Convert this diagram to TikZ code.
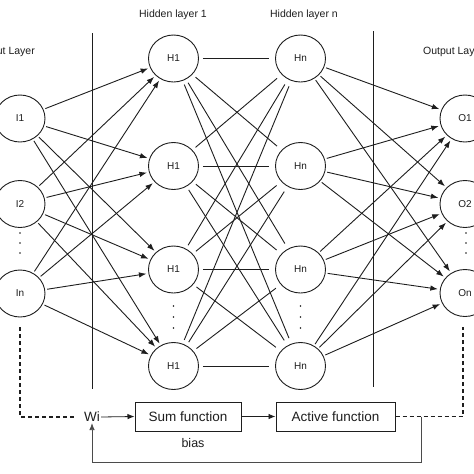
\documentclass[tikz,border=0pt]{standalone}
\usepackage{fontspec}
\setmainfont{Liberation Sans}
\usetikzlibrary{arrows.meta,shapes.geometric,calc}
\definecolor{ln}{HTML}{1E1E1E}
\begin{document}
\begin{tikzpicture}[x=1pt,y=-1pt,
  neuron/.style={ellipse,draw=ln,line width=0.9pt,minimum width=50pt,minimum height=47pt,inner sep=0pt,font=\fontsize{10}{12}\selectfont,text=ln},
  arr/.style={draw=ln,line width=0.9pt,-{Latex[length=7.5pt,width=5.5pt]},shorten <=2pt,shorten >=2pt},
  link/.style={draw=ln,line width=0.9pt,shorten <=4pt,shorten >=6pt},
  sep/.style={draw=ln,line width=0.9pt},
  lab/.style={font=\fontsize{10.5}{12}\selectfont,text=ln,inner sep=0pt},
  fbox/.style={draw=ln,line width=1pt,minimum height=29pt,inner sep=0pt,font=\fontsize{13.5}{15}\selectfont,text=ln},
  dsh/.style={draw=ln,line width=1.1pt,dash pattern=on 4pt off 3pt},
  fb/.style={draw=ln!80,line width=0.8pt},
  dotmark/.style={fill=ln,draw=none,circle,inner sep=0pt,minimum size=1.6pt}
]
\useasboundingbox (0,0) rectangle (474,474);
\fill[white] (0,0) rectangle (474,474);
\clip (0,0) rectangle (474,474);

% layer labels (cut off at the edges as in the source picture)
\node[lab,anchor=east] (linput) at (35,52) {Input Layer};
\node[lab] (lh1) at (173,15) {Hidden layer 1};
\node[lab] (lhn) at (304,15) {Hidden layer n};
\node[lab,anchor=west] (lout) at (423,52) {Output Layer};

% separators
\draw[sep] (92,33) -- (92,389);
\draw[sep] (373,31) -- (373,387);

% input nodes
\node[neuron] (i1) at (20,118.5) {I1};
\node[neuron] (i2) at (20,204) {I2};
\node[neuron] (i3) at (20,293.5) {In};
% hidden layer 1
\node[neuron] (a1) at (173.5,58.5) {H1};
\node[neuron] (a2) at (173.5,166) {H1};
\node[neuron] (a3) at (173.5,269.5) {H1};
\node[neuron] (a4) at (173.5,366) {H1};
% hidden layer n
\node[neuron] (b1) at (300.5,58.5) {Hn};
\node[neuron] (b2) at (300.5,166) {Hn};
\node[neuron] (b3) at (300.5,269.5) {Hn};
\node[neuron] (b4) at (300.5,366) {Hn};
% outputs
\node[neuron] (o1) at (465,118.5) {O1};
\node[neuron] (o2) at (465,204) {O2};
\node[neuron] (o3) at (465,293) {On};

% dots
\foreach \y in {233,243,253}{
  \node[dotmark] (di\y) at (20,\y) {};
  \node[dotmark] (do\y) at (466,\y) {};
}
\foreach \y in {306,317,328}{
  \node[dotmark] (da\y) at (173.5,\y) {};
  \node[dotmark] (db\y) at (300.5,\y) {};
}

% connections
\foreach \s in {i1,i2,i3}
  \foreach \t in {a1,a2,a3,a4}
    \draw[arr] (\s) -- (\t);
\foreach \s in {a1,a2,a3,a4}
  \foreach \t in {b1,b2,b3,b4}
    \draw[link] (\s) -- (\t);
\foreach \s in {b1,b2,b3,b4}
  \foreach \t in {o1,o2,o3}
    \draw[arr] (\s) -- (\t);

% bottom part
\node[font=\fontsize{13.5}{15}\selectfont,text=ln,inner sep=1pt] (wi) at (92,417) {Wi};
\node[fbox,minimum width=106pt] (sum) at (188,416.5) {Sum function};
\node[fbox,minimum width=119pt] (act) at (335.5,416.5) {Active function};
\node[font=\fontsize{12.5}{14}\selectfont,text=ln,inner sep=0pt] (bias) at (193,443) {bias};

\draw[draw=ln,line width=0.8pt,-{Latex[length=7pt,width=5.5pt]}] (wi.east) -- (sum.west);
\draw[draw=ln,line width=0.8pt,-{Latex[length=7pt,width=5.5pt]}] (sum.east) -- (act.west);

\coordinate (ldash) at ($(i3.south)+(0,10)$);
\draw[dsh,shorten >=9pt] (ldash) |- (wi.west);
\coordinate (rdash) at ($(o3.south)+(-2,10)$);
\draw[dsh] (act.east) -| (rdash);

\coordinate (fbs) at (421,416.5);
\coordinate (fbe) at (421,462);
\draw[fb,-{Latex[length=7pt,width=5.5pt]}] (fbs) -- (fbe) -| (wi.south);
\end{tikzpicture}
\end{document}
